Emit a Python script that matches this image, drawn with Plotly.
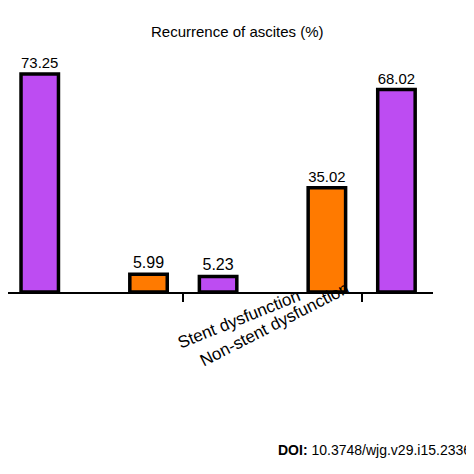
import plotly.graph_objects as go

groups = ["", "Stent dysfunction", "Non-stent dysfunction"]
group_x = [0, 1, 2]
orange_vals = [60.0, 5.99, 35.02]
purple_vals = [73.25, 5.23, 68.02]

fig = go.Figure()
fig.add_trace(go.Bar(
    x=[g - 0.195 for g in group_x], y=orange_vals, width=0.21,
    marker=dict(color="#FF7A00", line=dict(color="black", width=3.5)),
    text=["", "5.99", "35.02"], textposition="outside",
    textfont=dict(size=16, color="black", family="Liberation Sans"),
    cliponaxis=False))
fig.add_trace(go.Bar(
    x=[g + 0.195 for g in group_x], y=purple_vals, width=0.21,
    marker=dict(color="#BD4CF2", line=dict(color="black", width=3.5)),
    text=["73.25", "5.23", "68.02"], textposition="outside",
    textfont=dict(size=16, color="black", family="Liberation Sans"),
    cliponaxis=False))

fig.update_layout(
    width=474, height=474, showlegend=False, barmode="overlay",
    margin=dict(l=0, r=49, t=40, b=190),
    plot_bgcolor="white", paper_bgcolor="white",
    font=dict(family="Liberation Sans", color="black"),
    xaxis=dict(range=[0.017, 2.4], showgrid=False, zeroline=False,
               showline=True, linecolor="black", linewidth=2,
               tickmode="array", tickvals=[1, 2], ticktext=["", ""],
               ticks="outside", ticklen=8, tickwidth=2, tickcolor="black"),
    yaxis=dict(range=[0, 82], visible=False),
)

fig.add_annotation(text="Recurrence of ascites (%)", xref="paper", yref="paper",
                   x=318 / 425, y=1.11, showarrow=False, font=dict(size=15))
fig.add_annotation(text="Stent dysfunction", xref="x", yref="paper",
                   x=1.31, y=-0.26, showarrow=False, textangle=-22,
                   font=dict(size=17))
fig.add_annotation(text="Non-stent dysfunction", xref="x", yref="paper",
                   x=1.51, y=-0.33, showarrow=False, textangle=-27,
                   font=dict(size=17))
fig.add_annotation(text="<b>DOI:</b> 10.3748/wjg.v29.i15.2336 <b>Copyright</b>",
                   xref="paper", yref="paper", x=268 / 425, y=-0.69,
                   xanchor="left", showarrow=False, font=dict(size=14))

fig.write_html("out.html")
